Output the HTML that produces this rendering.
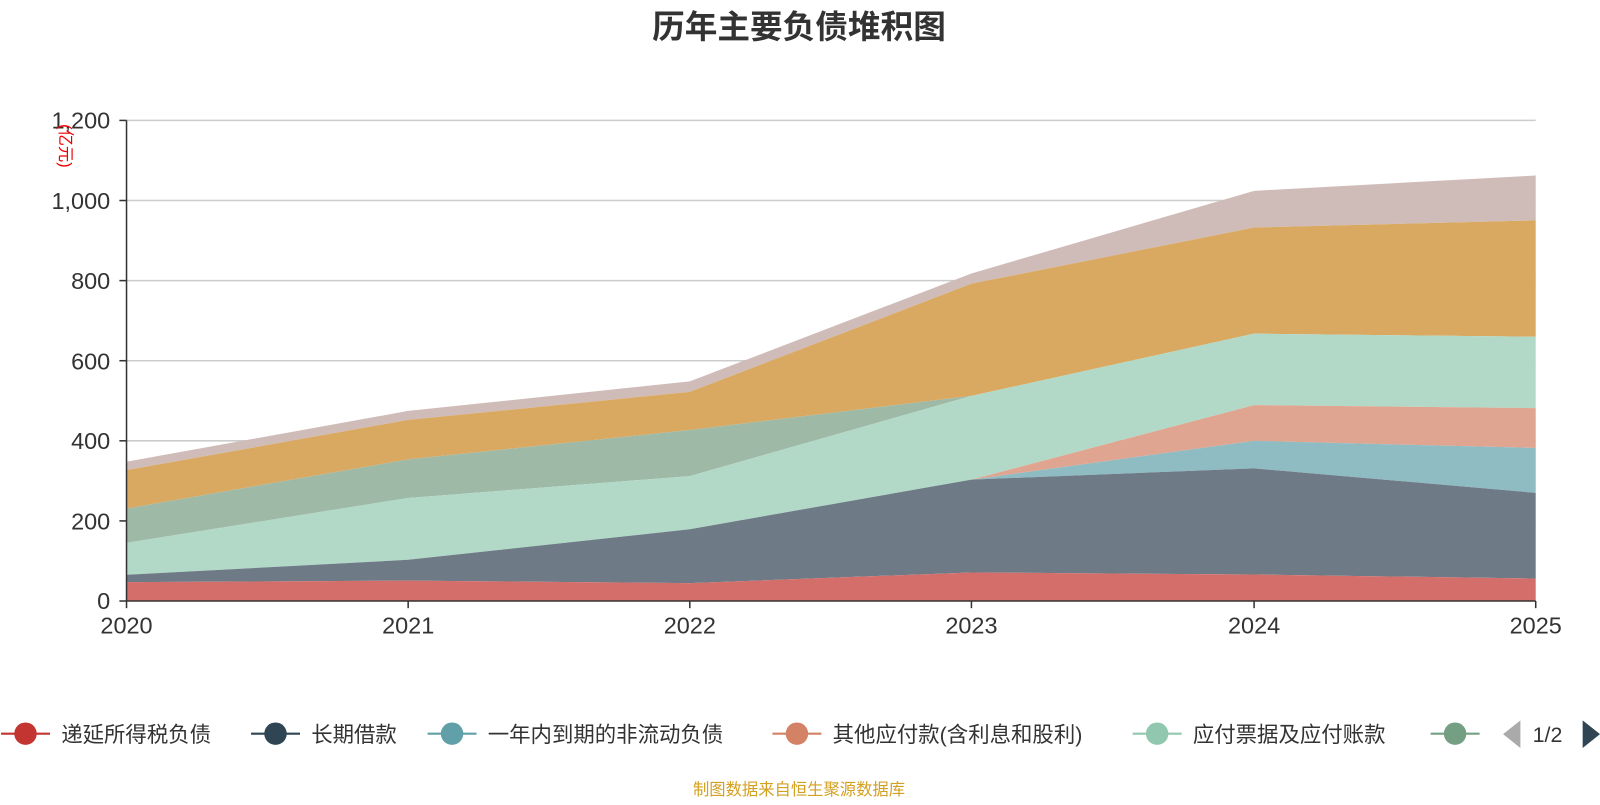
<!DOCTYPE html>
<html><head><meta charset="utf-8"><style>
body{margin:0;background:#fff;}
svg text{font-family:"Liberation Sans","Noto Sans CJK SC",sans-serif;}
</style></head><body>
<svg width="1600" height="800" viewBox="0 0 1568 784" xmlns="http://www.w3.org/2000/svg">
<text x="783" y="37" text-anchor="middle" font-size="32" font-weight="bold" fill="#333">历年主要负债堆积图</text>
<g stroke="#ccc" stroke-width="1.5">
<line x1="124" y1="118" x2="1505" y2="118"/><line x1="124" y1="196.5" x2="1505" y2="196.5"/>
<line x1="124" y1="275" x2="1505" y2="275"/><line x1="124" y1="353.5" x2="1505" y2="353.5"/>
<line x1="124" y1="432" x2="1505" y2="432"/><line x1="124" y1="510.5" x2="1505" y2="510.5"/>
</g>
<polygon fill="#cfbcb8" points="124,452.5 400,402.7 676,373.8 952,268 1229,187 1505,172 1505,216 1229,223 952,278 676,384 400,411.5 124,460.7"/>
<polygon fill="#d9a962" points="124,460.7 400,411.5 676,384 952,278 1229,223 1505,216 1505,330 1229,327 952,388 676,421.4 400,450.2 124,498.4"/>
<polygon fill="#9eb9a6" points="124,498.4 400,450.2 676,421.4 952,388 952,388 676,466.6 400,488 124,532"/>
<polygon fill="#b2d9c7" points="124,532 400,488 676,466.6 952,388 1229,327 1505,330 1505,400 1229,397 952,470 676,518.7 400,548.6 124,563.3"/>
<polygon fill="#e0a590" points="952,470 1229,397 1505,400 1505,439 1229,432 952,470"/>
<polygon fill="#8fbbc2" points="952,470 1229,432 1505,439 1505,483 1229,459 952,470"/>
<polygon fill="#6e7b87" points="124,563.3 400,548.6 676,518.7 952,470 1229,459 1505,483 1505,567 1229,563 952,561 676,571.5 400,569 124,570.5"/>
<polygon fill="#d46e6b" points="124,570.5 400,569 676,571.5 952,561 1229,563 1505,567 1505,589 124,589"/>
<g stroke="#333" stroke-width="1.5">
<line x1="124" y1="118" x2="124" y2="589"/><line x1="124" y1="589" x2="1505" y2="589"/>
<line x1="117" y1="118" x2="124" y2="118"/><line x1="117" y1="196.5" x2="124" y2="196.5"/><line x1="117" y1="275" x2="124" y2="275"/><line x1="117" y1="353.5" x2="124" y2="353.5"/><line x1="117" y1="432" x2="124" y2="432"/><line x1="117" y1="510.5" x2="124" y2="510.5"/><line x1="117" y1="589" x2="124" y2="589"/>
<line x1="124" y1="589" x2="124" y2="596"/><line x1="400" y1="589" x2="400" y2="596"/><line x1="676" y1="589" x2="676" y2="596"/><line x1="952" y1="589" x2="952" y2="596"/><line x1="1229" y1="589" x2="1229" y2="596"/><line x1="1505" y1="589" x2="1505" y2="596"/>
</g>
<g font-size="23" fill="#333" text-anchor="end">
<text x="108" y="126">1,200</text><text x="108" y="205">1,000</text><text x="108" y="283">800</text><text x="108" y="362">600</text><text x="108" y="440">400</text><text x="108" y="519">200</text><text x="108" y="597">0</text>
</g>
<g font-size="23" fill="#333" text-anchor="middle">
<text x="124" y="621">2020</text><text x="400" y="621">2021</text><text x="676" y="621">2022</text><text x="952" y="621">2023</text><text x="1229" y="621">2024</text><text x="1505" y="621">2025</text>
</g>
<text transform="translate(59,143) rotate(90)" text-anchor="middle" font-size="16" fill="#e00">(亿元)</text>
<g font-size="21" fill="#333">
<line x1="1" y1="719" x2="49" y2="719" stroke="#c23531" stroke-width="2"/><circle cx="25" cy="719" r="11" fill="#c23531"/><text x="60" y="727">递延所得税负债</text>
<line x1="246" y1="719" x2="294" y2="719" stroke="#2f4554" stroke-width="2"/><circle cx="270" cy="719" r="11" fill="#2f4554"/><text x="305" y="727">长期借款</text>
<line x1="419" y1="719" x2="467" y2="719" stroke="#61a0a8" stroke-width="2"/><circle cx="443" cy="719" r="11" fill="#61a0a8"/><text x="478" y="727">一年内到期的非流动负债</text>
<line x1="757" y1="719" x2="805" y2="719" stroke="#d48265" stroke-width="2"/><circle cx="781" cy="719" r="11" fill="#d48265"/><text x="816" y="727">其他应付款(含利息和股利)</text>
<line x1="1110" y1="719" x2="1158" y2="719" stroke="#91c7ae" stroke-width="2"/><circle cx="1134" cy="719" r="11" fill="#91c7ae"/><text x="1169" y="727">应付票据及应付账款</text>
<line x1="1402" y1="719" x2="1450" y2="719" stroke="#749f83" stroke-width="2"/><circle cx="1426" cy="719" r="11" fill="#749f83"/>
<polygon points="1490,706 1490,733 1473,719.5" fill="#aaa"/>
<text x="1502" y="727">1/2</text>
<polygon points="1551,706 1551,733 1568,719.5" fill="#2f4554"/>
</g>
<text x="783" y="779" text-anchor="middle" font-size="16" fill="#d4a020">制图数据来自恒生聚源数据库</text>
</svg>
</body></html>
